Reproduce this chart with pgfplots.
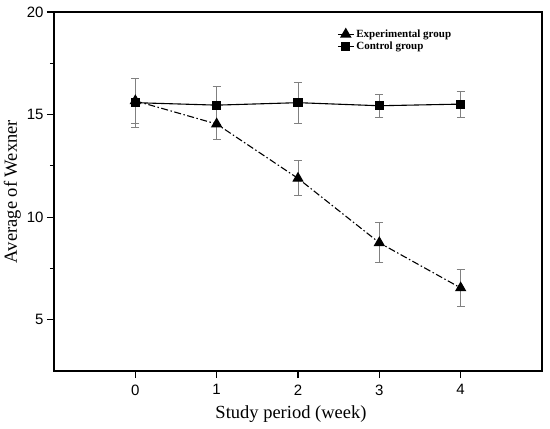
\documentclass[border=0pt]{standalone}
\usepackage{fontspec}
\setmainfont{Liberation Serif}
\setsansfont{Liberation Sans}
\usepackage{pgfplots}
\pgfplotsset{compat=1.18}
\pgfplotstableread{
x y e
0 15.67 1.10
1 14.54 0.75
2 11.89 0.85
3 8.75 0.98
4 6.55 0.90
}\expdata
\pgfplotstableread{
x y e
0 15.58 1.20
1 15.46 0.93
2 15.58 1.00
3 15.43 0.57
4 15.51 0.63
}\ctrldata
\begin{document}
\begin{tikzpicture}
\path[use as bounding box] (-54pt,-58pt) rectangle (496pt,371pt);
\begin{axis}[
  at={(0pt,0pt)}, anchor=south west,
  scale only axis, width=488pt, height=359pt,
  xmin=-1, xmax=5, ymin=2.5, ymax=20,
  xtick={0,1,2,3,4}, ytick={5,10,15,20},
  minor ytick={7.5,12.5,17.5},
  tick pos=left, tick align=outside,
  major tick length=7pt, minor tick length=4pt,
  axis line style={line width=1.2pt},
  every tick/.style={black, line width=1.1pt},
  /pgf/number format/assume math mode=true,
  tick label style={font=\fontsize{15}{17}\sffamily},
  xticklabel style={yshift=-3pt},
  xlabel={Study period (week)},
  ylabel={Average of Wexner},
  label style={font=\fontsize{18.5}{21}\selectfont},
  xlabel style={xshift=-7pt, yshift=-4pt},
  ylabel style={yshift=-1pt},
  legend style={draw=none, fill=none, at={(0.58,0.957)}, anchor=north west,
    font=\fontsize{11}{13}\selectfont\bfseries, inner sep=0pt,
    row sep=-1pt, /tikz/every even column/.append style={column sep=0pt}},
  legend cell align=left,
  legend image code/.code={\draw[mark repeat=2,mark phase=2,#1,solid] plot coordinates {(0pt,0pt) (8pt,0pt) (16pt,0pt)};},
]
\addplot[black, line width=1.1pt, dash pattern=on 7pt off 2.5pt on 1.5pt off 2.5pt,
  mark=triangle*, mark size=5.5pt, mark options={solid, fill=black},
  error bars/.cd, y dir=both, y explicit,
  error bar style={gray, line width=0.9pt, solid},
  error mark options={rotate=90, mark size=4pt, gray, line width=0.9pt, solid}]
  table[x=x, y=y, y error=e]{\expdata};
\addlegendentry{Experimental group}
\addplot[black, line width=1.1pt, solid,
  mark=square*, mark size=4pt, mark options={solid, fill=black},
  error bars/.cd, y dir=both, y explicit,
  error bar style={gray, line width=0.9pt, solid},
  error mark options={rotate=90, mark size=4pt, gray, line width=0.9pt, solid}]
  table[x=x, y=y, y error=e]{\ctrldata};
\addlegendentry{Control group}
\end{axis}
\end{tikzpicture}
\end{document}
